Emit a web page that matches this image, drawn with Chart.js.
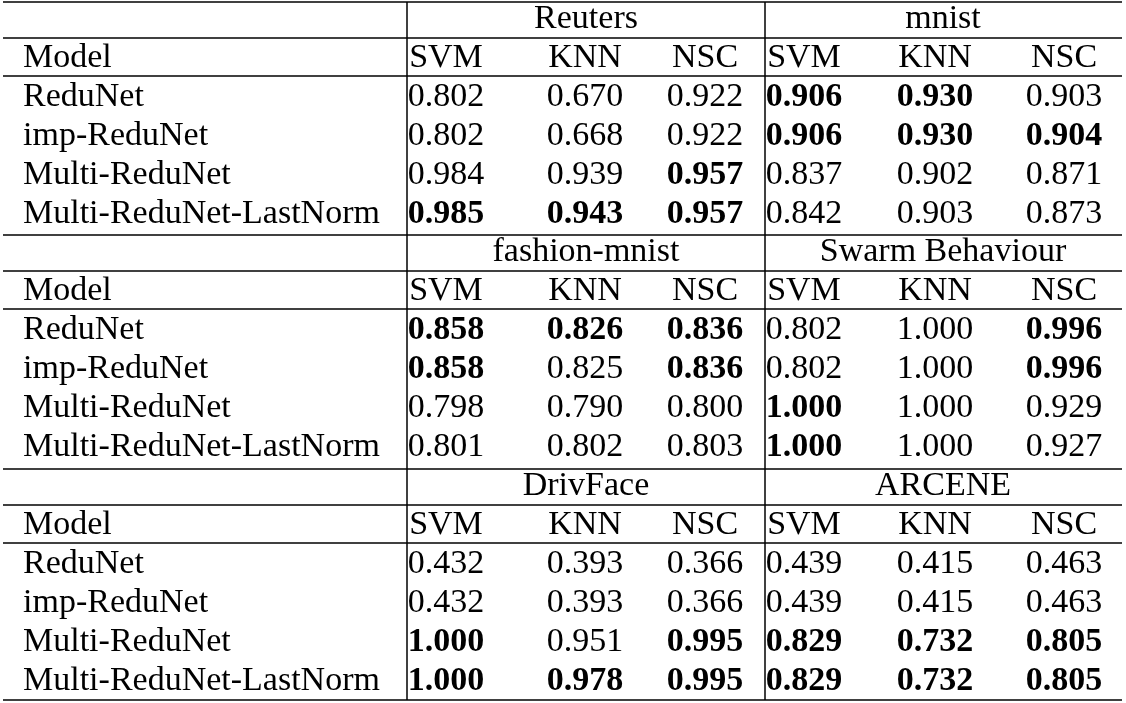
<!DOCTYPE html>
<html>
<head>
<meta charset="utf-8">
<script src="https://cdn.jsdelivr.net/npm/chart.js@4/dist/chart.umd.min.js"></script>
<style>
  html, body { margin: 0; padding: 0; background: #fff; }
  #wrap { width: 1126px; height: 703px; }
</style>
</head>
<body>
<div id="wrap"><canvas id="tbl"></canvas></div>
<script>
const models = ['ReduNet', 'imp-ReduNet', 'Multi-ReduNet', 'Multi-ReduNet-LastNorm'];
const classifiers = ['SVM', 'KNN', 'NSC'];
const datasetNames = [['Reuters', 'mnist'], ['fashion-mnist', 'Swarm Behaviour'], ['DrivFace', 'ARCENE']];

const reuters = [[0.802, 0.670, 0.922], [0.802, 0.668, 0.922], [0.984, 0.939, 0.957], [0.985, 0.943, 0.957]];
const mnist = [[0.906, 0.930, 0.903], [0.906, 0.930, 0.904], [0.837, 0.902, 0.871], [0.842, 0.903, 0.873]];
const fashion = [[0.858, 0.826, 0.836], [0.858, 0.825, 0.836], [0.798, 0.790, 0.800], [0.801, 0.802, 0.803]];
const swarm = [[0.802, 1.000, 0.996], [0.802, 1.000, 0.996], [1.000, 1.000, 0.929], [1.000, 1.000, 0.927]];
const drivface = [[0.432, 0.393, 0.366], [0.432, 0.393, 0.366], [1.000, 0.951, 0.995], [1.000, 0.978, 0.995]];
const arcene = [[0.439, 0.415, 0.463], [0.439, 0.415, 0.463], [0.829, 0.732, 0.805], [0.829, 0.732, 0.805]];

// bold marks as printed in the table
const reutersBold = [[0,0,0],[0,0,0],[0,0,1],[1,1,1]];
const mnistBold = [[1,1,0],[1,1,1],[0,0,0],[0,0,0]];
const fashionBold = [[1,1,1],[1,0,1],[0,0,0],[0,0,0]];
const swarmBold = [[0,0,1],[0,0,1],[1,0,0],[1,0,0]];
const drivBold = [[0,0,0],[0,0,0],[1,0,1],[1,1,1]];
const arceneBold = [[0,0,0],[0,0,0],[1,1,1],[1,1,1]];

const blocks = [
  [reuters, mnist, reutersBold, mnistBold],
  [fashion, swarm, fashionBold, swarmBold],
  [drivface, arcene, drivBold, arceneBold]
];

// layout
const colX = [446, 585, 705, 804, 935, 1064];
const groupX = [586, 943];
const blockTop = [18, 251, 485];
const rowStep = 39;

const tablePlugin = {
  id: 'tablePlugin',
  afterDraw(chart) {
    const ctx = chart.ctx;
    const xs = chart.scales.x, ys = chart.scales.y;
    const X = v => xs.getPixelForValue(v), Y = v => ys.getPixelForValue(v);
    ctx.save();
    ctx.fillStyle = '#000';
    ctx.strokeStyle = '#000';
    ctx.lineWidth = 1.5;
    ctx.textBaseline = 'middle';
    const reg = '34px "Liberation Serif", "DejaVu Serif", serif';
    const bold = 'bold 34px "Liberation Serif", "DejaVu Serif", serif';
    const hline = y => { ctx.beginPath(); ctx.moveTo(X(3), Y(y)); ctx.lineTo(X(1122), Y(y)); ctx.stroke(); };

    blocks.forEach((b, bi) => {
      const t = blockTop[bi];
      ctx.font = reg;
      ctx.textAlign = 'center';
      datasetNames[bi].forEach((n, k) => ctx.fillText(n, X(groupX[k]), Y(t + 1)));
      ctx.textAlign = 'left';
      ctx.fillText('Model', X(23), Y(t + rowStep + 1));
      ctx.textAlign = 'center';
      colX.forEach((cx, c) => ctx.fillText(classifiers[c % 3], X(cx), Y(t + rowStep + 1)));
      models.forEach((m, r) => {
        const y = t + rowStep * (r + 2) + 1;
        ctx.font = reg;
        ctx.textAlign = 'left';
        ctx.fillText(m, X(23), Y(y));
        ctx.textAlign = 'center';
        for (let g = 0; g < 2; g++) {
          for (let c = 0; c < 3; c++) {
            ctx.font = b[g + 2][r][c] ? bold : reg;
            ctx.fillText(b[g][r][c].toFixed(3), X(colX[g * 3 + c]), Y(y));
          }
        }
      });
      hline(t - 16);
      hline(t + 20);
      hline(t + 58);
    });
    hline(700);
    [407, 765].forEach(x => {
      ctx.beginPath(); ctx.moveTo(X(x), Y(2)); ctx.lineTo(X(x), Y(700)); ctx.stroke();
    });
    ctx.restore();
  }
};

new Chart(document.getElementById('tbl'), {
  type: 'scatter',
  data: { datasets: [{ data: [] }] },
  options: {
    responsive: true,
    maintainAspectRatio: false,
    animation: false,
    layout: { padding: 0 },
    plugins: { legend: { display: false }, tooltip: { enabled: false } },
    scales: {
      x: { type: 'linear', min: 0, max: 1126, display: false },
      y: { type: 'linear', min: 0, max: 703, reverse: true, display: false }
    }
  },
  plugins: [tablePlugin]
});
</script>
</body>
</html>
